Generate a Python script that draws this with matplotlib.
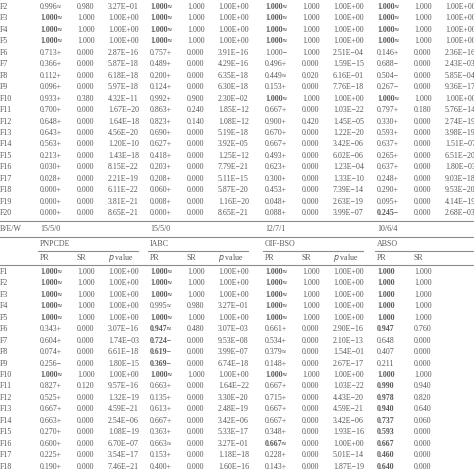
import matplotlib.pyplot as plt

# ---- data: top block (rows F2..F20) ----
top_rows = [f"F{i}" for i in range(2, 21)]
top_pr = [
    ["0.996≈", "1.000≈", "1.000≈", "1.000≈", "0.713+", "0.366+", "0.112+", "0.096+", "0.933+", "0.700+",
     "0.648+", "0.643+", "0.563+", "0.213+", "0.030+", "0.028+", "0.000+", "0.000+", "0.000+"],
    ["1.000≈", "1.000≈", "1.000≈", "1.000≈", "0.757+", "0.489+", "0.200+", "0.124+", "0.992+", "0.863+",
     "0.823+", "0.690+", "0.627+", "0.418+", "0.203+", "0.208+", "0.060+", "0.008+", "0.000+"],
    ["1.000≈", "1.000≈", "1.000≈", "1.000≈", "1.000−", "0.496+", "0.449≈", "0.153+", "1.000≈", "0.667+",
     "0.900+", "0.670+", "0.667+", "0.493+", "0.623+", "0.300+", "0.453+", "0.048+", "0.088+"],
    ["1.000≈", "1.000≈", "1.000≈", "1.000≈", "0.146+", "0.688−", "0.504−", "0.267−", "1.000≈", "0.797+",
     "0.330+", "0.593+", "0.637+", "0.265+", "0.637+", "0.248+", "0.290+", "0.095+", "0.245−"],
]
top_sr = [
    ["0.980", "1.000", "1.000", "1.000", "0.000", "0.000", "0.000", "0.000", "0.380"] + ["0.000"] * 10,
    ["1.000", "1.000", "1.000", "1.000", "0.000", "0.000", "0.000", "0.000", "0.900", "0.240", "0.140"] + ["0.000"] * 8,
    ["1.000", "1.000", "1.000", "1.000", "1.000", "0.000", "0.020", "0.000", "1.000", "0.000", "0.420"] + ["0.000"] * 8,
    ["1.000", "1.000", "1.000", "1.000", "0.000", "0.000", "0.000", "0.000", "1.000", "0.180"] + ["0.000"] * 9,
]
top_p = [
    ["3.27E−01", "1.00E+00", "1.00E+00", "1.00E+00", "2.87E−16", "5.87E−18", "6.18E−18", "5.97E−18", "4.32E−11",
     "1.67E−20", "1.64E−18", "4.56E−20", "1.20E−10", "1.43E−18", "8.15E−22", "2.21E−19", "6.11E−22", "3.81E−21", "8.65E−21"],
    ["1.00E+00", "1.00E+00", "1.00E+00", "1.00E+00", "3.91E−16", "4.29E−16", "6.35E−18", "6.30E−18", "2.30E−02",
     "1.85E−12", "1.08E−12", "5.19E−18", "3.92E−05", "1.25E−12", "7.79E−21", "5.11E−15", "5.87E−20", "1.16E−20", "8.65E−21"],
    ["1.00E+00", "1.00E+00", "1.00E+00", "1.00E+00", "2.51E−04", "1.59E−15", "6.16E−01", "7.76E−18", "1.00E+00",
     "1.03E−22", "1.45E−05", "1.22E−20", "3.42E−06", "6.02E−06", "1.23E−04", "1.33E−10", "7.39E−14", "2.63E−19", "3.99E−07"],
    ["1.00E+00", "1.00E+00", "1.00E+00", "1.00E+00", "2.36E−16", "2.43E−03", "5.85E−04", "9.36E−17", "1.00E+00",
     "5.76E−14", "2.74E−19", "3.98E−19", "1.51E−07", "6.51E−20", "1.80E−03", "9.03E−18", "9.53E−20", "4.14E−19", "2.68E−03"],
]
top_bold = [[1, 2, 3], [0, 1, 2, 3], [0, 1, 2, 3, 8], [0, 1, 2, 3, 8, 18]]
top_bew = ["15/5/0", "15/5/0", "12/7/1", "10/6/4"]

# ---- data: bottom block (rows F1..F18) ----
algos = ["PNPCDE", "IABC", "OIF-BSO", "ABSO"]
bot_rows = [f"F{i}" for i in range(1, 19)]
bot_pr = [
    ["1.000≈"] * 5 + ["0.343+", "0.604+", "0.074+", "0.256−", "1.000≈", "0.827+", "0.525+", "0.667+", "0.663+",
                      "0.270+", "0.600+", "0.225+", "0.190+"],
    ["1.000≈", "1.000≈", "1.000≈", "0.995≈", "1.000≈", "0.947≈", "0.724−", "0.619−", "0.369−", "1.000≈",
     "0.663+", "0.135+", "0.613+", "0.667+", "0.363+", "0.663≈", "0.153+", "0.400+"],
    ["1.000≈"] * 5 + ["0.661+", "0.534+", "0.379≈", "0.148+", "1.000≈", "0.667+", "0.715+", "0.667+", "0.667+",
                      "0.348+", "0.667≈", "0.228+", "0.143+"],
    ["1.000"] * 5 + ["0.947", "0.648", "0.407", "0.211", "1.000", "0.990", "0.978", "0.940", "0.737",
                     "0.593", "0.667", "0.460", "0.640"],
]
bot_sr = [
    ["1.000"] * 5 + ["0.000"] * 4 + ["1.000", "0.120"] + ["0.000"] * 7,
    ["1.000", "1.000", "1.000", "0.980", "1.000", "0.480", "0.000", "0.000", "0.000", "1.000"] + ["0.000"] * 8,
    ["1.000"] * 5 + ["0.000"] * 4 + ["1.000"] + ["0.000"] * 8,
    ["1.000"] * 5 + ["0.760", "0.000", "0.000", "0.000", "1.000", "0.940", "0.820", "0.640", "0.060"] + ["0.000"] * 4,
]
bot_p = [
    ["1.00E+00"] * 5 + ["3.07E−16", "1.74E−03", "6.61E−18", "1.80E−15", "1.00E+00", "9.57E−16", "1.32E−19",
                        "4.59E−21", "2.54E−06", "1.08E−19", "6.70E−07", "3.54E−17", "7.46E−21"],
    ["1.00E+00", "1.00E+00", "1.00E+00", "3.27E−01", "1.00E+00", "3.07E−03", "9.53E−08", "3.99E−07", "6.74E−18",
     "1.00E+00", "1.64E−22", "3.30E−20", "2.48E−19", "3.42E−06", "5.33E−17", "3.27E−01", "1.18E−18", "1.60E−16"],
    ["1.00E+00"] * 5 + ["2.90E−16", "2.10E−13", "1.54E−01", "2.67E−17", "1.00E+00", "1.03E−22", "4.43E−20",
                        "4.59E−21", "3.42E−06", "1.93E−16", "1.00E+00", "5.01E−14", "1.87E−19"],
]
bot_bold = [[0, 1, 2, 3, 4, 9], [0, 1, 2, 4, 5, 6, 7, 8, 9], [0, 1, 2, 3, 4, 9, 15],
            [0, 1, 2, 3, 4, 5, 9, 10, 11, 12, 13, 14, 15, 16, 17]]

# column x positions (pixels)
group_x = [40, 150, 265, 377]
sr_dx = 37
p_dx = 68
row_h = 11.45
FS = 5.7
COL = "#585858"
LINE = "#8c8c8c"

plt.rcParams['font.family'] = ['Liberation Serif', 'DejaVu Serif']

fig = plt.figure(figsize=(4.74, 4.74), dpi=100)
ax = fig.add_axes([0, 0, 1, 1])
ax.set_xlim(0, 474)
ax.set_ylim(474, 0)
ax.axis('off')


def txt(x, y, s, bold=False, style='normal'):
    ax.text(x, y, s, fontsize=FS, color=COL, va='center', ha='left',
            fontweight='bold' if bold else 'normal', fontstyle=style)


# top block
y0 = 7
for i, r in enumerate(top_rows):
    y = y0 + i * row_h
    txt(0, y, r)
    for g in range(4):
        gx = group_x[g]
        txt(gx, y, top_pr[g][i], bold=i in top_bold[g])
        txt(gx + sr_dx, y, top_sr[g][i])
        txt(gx + p_dx, y, top_p[g][i])

ax.plot([0, 474], [220.5, 220.5], color=LINE, lw=0.8)
txt(0, 229, "B/E/W")
for g in range(4):
    txt(group_x[g], 229, top_bew[g])
ax.plot([0, 474], [236.5, 236.5], color=LINE, lw=0.8)

# bottom block header
for g in range(4):
    gx = group_x[g]
    txt(gx, 243.5, algos[g])
    ax.plot([gx - 2, min(gx + 98, 474)], [251, 251], color=LINE, lw=0.8)
    txt(gx, 258, "PR")
    txt(gx + sr_dx, 258, "SR")
    if g < 3:
        ax.text(gx + p_dx, 258, "$p$ value", fontsize=FS, color=COL, va='center', ha='left')
ax.plot([0, 474], [265, 265], color=LINE, lw=0.8)

y1 = 272
for i, r in enumerate(bot_rows):
    y = y1 + i * row_h
    txt(0, y, r)
    for g in range(4):
        gx = group_x[g]
        txt(gx, y, bot_pr[g][i], bold=i in bot_bold[g])
        txt(gx + sr_dx, y, bot_sr[g][i])
        if g < 3:
            txt(gx + p_dx, y, bot_p[g][i])

fig.savefig("out.png", dpi=100)
